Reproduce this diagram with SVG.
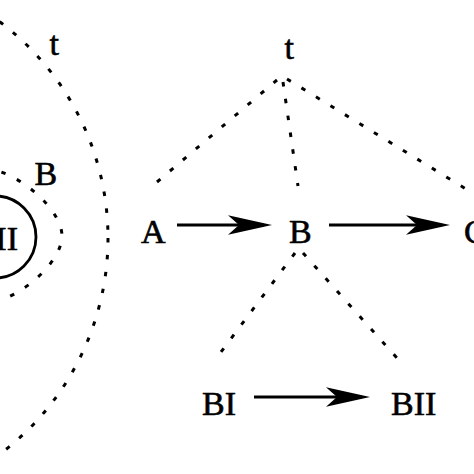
<svg xmlns="http://www.w3.org/2000/svg" width="474" height="474" viewBox="0 0 474 474">
  <style>
    .lbl { font-family: "Liberation Serif", "Times New Roman", serif; font-size: 34px; fill: #000; stroke: #000; stroke-width: 0.6; }
    .dot { fill: none; stroke: #000; stroke-width: 3; stroke-dasharray: 4.5 12.5; }
    .arr { fill: none; stroke: #000; stroke-width: 2.8; }
  </style>
  <defs>
    <marker id="head" viewBox="0 0 44 20" markerWidth="44" markerHeight="20" refX="36" refY="10" orient="auto" markerUnits="userSpaceOnUse">
      <path d="M0,0.3 L44,10 L0,19.7 L11,10 Z" fill="#000"/>
    </marker>
  </defs>
  <rect width="474" height="474" fill="#fff"/>

  <!-- left: nested regions -->
  <g id="region-t">
    <circle class="dot" cx="-162" cy="238" r="270"/>
    <text class="lbl" x="49.5" y="55">t</text>
  </g>
  <g id="region-B">
    <path class="dot" d="M -15,168 C 20,172 62,210 62,236 C 62,262 20,300 -15,304"/>
    <text class="lbl" x="34.5" y="185">B</text>
  </g>
  <g id="region-II">
    <circle cx="-5" cy="237" r="41" fill="none" stroke="#000" stroke-width="2.8"/>
    <text class="lbl" x="18" y="250" text-anchor="end">II</text>
  </g>

  <!-- right: tree -->
  <g id="connectors">
    <line class="dot" x1="277" y1="80" x2="157" y2="182"/>
    <line class="dot" x1="283" y1="82" x2="298" y2="186"/>
    <line class="dot" x1="287" y1="79" x2="466" y2="189"/>
    <line class="dot" x1="295" y1="253" x2="221" y2="352"/>
    <line class="dot" x1="303" y1="253" x2="397" y2="358"/>
    <line class="arr" x1="177" y1="225" x2="264" y2="225" marker-end="url(#head)"/>
    <line class="arr" x1="329" y1="225" x2="442" y2="225" marker-end="url(#head)"/>
    <line class="arr" x1="254" y1="397" x2="362" y2="397" marker-end="url(#head)"/>
  </g>
  <g id="node-t"><text class="lbl" x="284.5" y="59">t</text></g>
  <g id="node-A"><text class="lbl" x="141" y="243">A</text></g>
  <g id="node-B"><text class="lbl" x="289" y="243">B</text></g>
  <g id="node-C"><text class="lbl" x="464" y="243">C</text></g>
  <g id="node-BI"><text class="lbl" x="202" y="415">BI</text></g>
  <g id="node-BII"><text class="lbl" x="391" y="415">BII</text></g>
</svg>
